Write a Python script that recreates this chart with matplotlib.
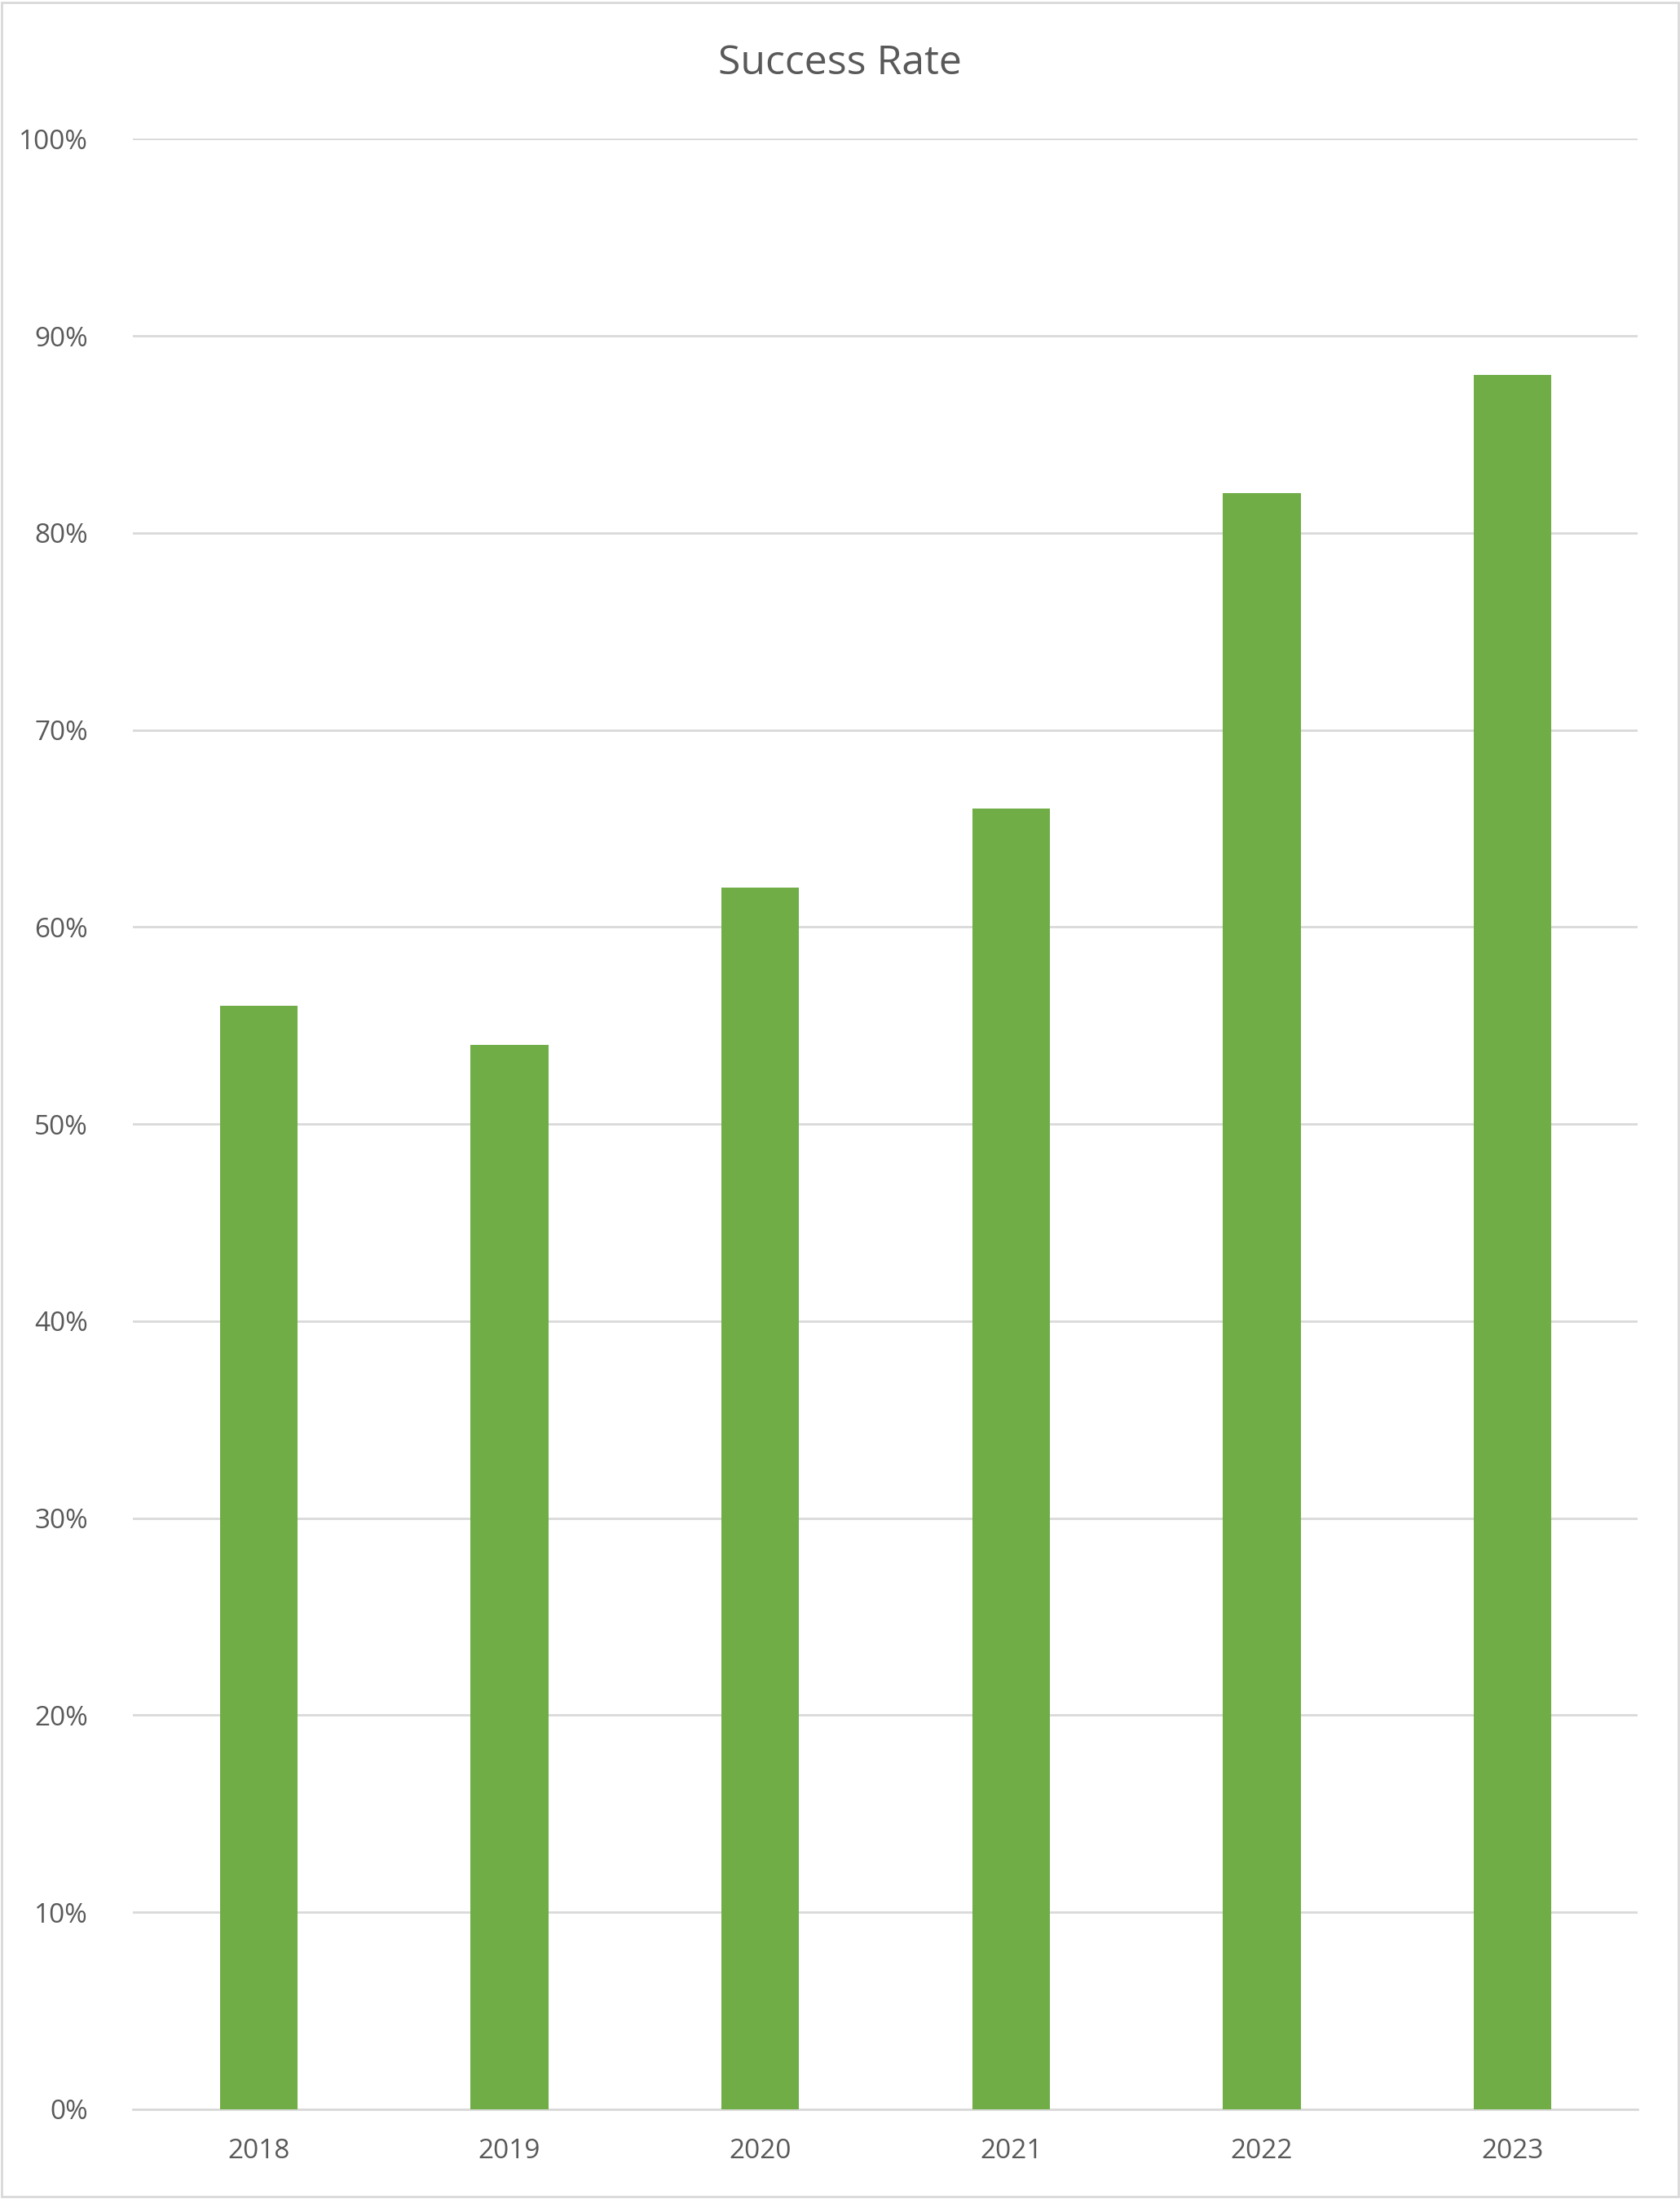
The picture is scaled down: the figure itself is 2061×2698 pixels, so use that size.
import matplotlib
matplotlib.use("Agg")
from matplotlib import pyplot as plt
from matplotlib.ticker import PercentFormatter, MultipleLocator
from matplotlib.patches import Rectangle

years = ["2018", "2019", "2020", "2021", "2022", "2023"]
success_rate = [56, 54, 62, 66, 82, 88]

plt.rcParams['font.family'] = ['Open Sans', 'DejaVu Sans']
text_color = '#595959'

fig = plt.figure(figsize=(20.61, 26.98), dpi=100)
ax = fig.add_axes([0.0793, 0.0408, 0.975 - 0.0793, 0.9369 - 0.0408])

ax.bar(years, success_rate, width=0.31, color='#70AD47', zorder=3)

ax.set_ylim(0, 100)
ax.set_xlim(-0.5, len(years) - 0.5)
ax.yaxis.set_major_locator(MultipleLocator(10))
ax.yaxis.set_major_formatter(PercentFormatter(decimals=0))
ax.grid(axis='y', color='#D9D9D9', linewidth=2, zorder=0)
for side in ['top', 'right', 'left']:
    ax.spines[side].set_visible(False)
ax.spines['bottom'].set_color('#D9D9D9')
ax.spines['bottom'].set_linewidth(2)
ax.tick_params(axis='both', length=0, labelsize=24, labelcolor=text_color)
ax.tick_params(axis='y', pad=40)
ax.tick_params(axis='x', pad=25)

fig.text(0.5, 0.971, "Success Rate", ha='center', va='center', fontsize=36, color=text_color)
fig.patches.append(Rectangle((0.001, 0.001), 0.998, 0.998, transform=fig.transFigure,
                             fill=False, edgecolor='#D9D9D9', linewidth=2))

fig.savefig("out.png", dpi=100)
